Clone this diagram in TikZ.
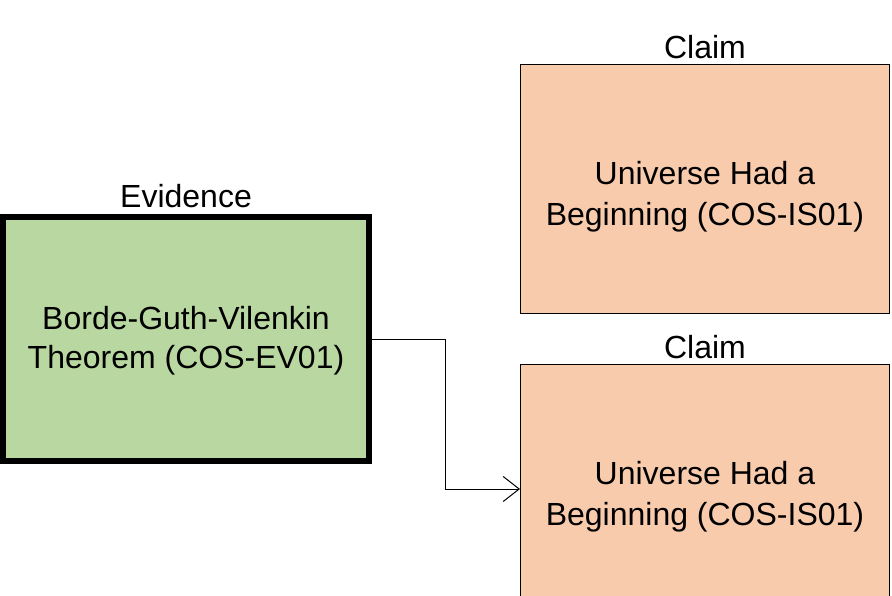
\documentclass[tikz,border=0pt]{standalone}
\usepackage{fontspec}
\setmainfont{Liberation Sans}
\usetikzlibrary{arrows.meta,positioning}
\definecolor{evgreen}{HTML}{B9D7A0}
\definecolor{claimpeach}{HTML}{F8CBAD}

\begin{document}
\begin{tikzpicture}[x=1pt,y=-1pt,>={Straight Barb[length=16pt,width=25pt]},
 every node/.style={font=\fontsize{32}{41}\selectfont},
 ev/.style={draw=black,line width=6pt,fill=evgreen,align=center,minimum width=366pt,minimum height=244pt,inner sep=0pt,
  font=\fontsize{32}{39}\selectfont},
 cl/.style={draw=black,line width=1pt,fill=claimpeach,align=center,minimum width=369pt,minimum height=249pt,inner sep=0pt},
 tag/.style={inner sep=0pt}]
\useasboundingbox (0,0) rectangle (892,596);
\begin{scope}
\clip (0,0) rectangle (892,596);
\node[ev] (bgv) at (186,339) {\rule{0pt}{26pt}Borde-Guth-Vilenkin\\Theorem (COS-EV01)};
\node[tag,above=6pt of bgv] (bgvtag) {Evidence};
\node[cl] (start1) at (705,189) {\rule{0pt}{38pt}Universe Had a\\Beginning (COS-IS01)};
\node[tag,above=5pt of start1] (start1tag) {Claim};
\node[cl,below=50pt of start1] (start2) {\rule{0pt}{38pt}Universe Had a\\Beginning (COS-IS01)};
\node[tag,above=5pt of start2] (start2tag) {Claim};
\draw[->,line width=1pt] (bgv.east) -- ++(73,0) |- (start2.west);
\end{scope}
\end{tikzpicture}
\end{document}
